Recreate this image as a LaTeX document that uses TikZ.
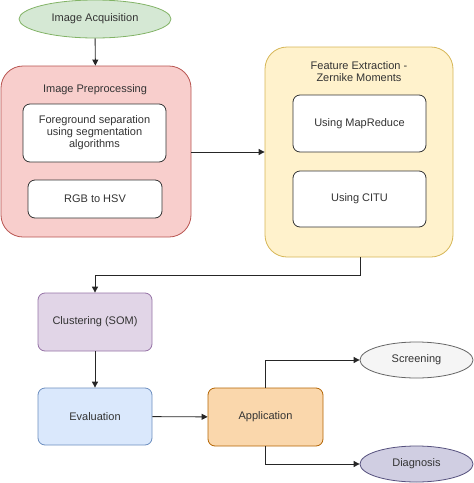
\documentclass[tikz,border=0pt]{standalone}
\usepackage{fontspec}
\setmainfont{Liberation Sans}
\usetikzlibrary{shapes.geometric,arrows.meta,positioning}
\definecolor{gfill}{HTML}{D5E8D4}\definecolor{gdraw}{HTML}{82B366}
\definecolor{rfill}{HTML}{F8CECC}\definecolor{rdraw}{HTML}{B85450}
\definecolor{yfill}{HTML}{FFF2CC}\definecolor{ydraw}{HTML}{D6B656}
\definecolor{pfill}{HTML}{E1D5E7}\definecolor{pdraw}{HTML}{9673A6}
\definecolor{bfill}{HTML}{DAE8FC}\definecolor{bdraw}{HTML}{6C8EBF}
\definecolor{ofill}{HTML}{FAD7AC}\definecolor{odraw}{HTML}{B46504}
\definecolor{sfill}{HTML}{F5F5F5}\definecolor{sdraw}{HTML}{666666}
\definecolor{dfill}{HTML}{D0CEE2}\definecolor{ddraw}{HTML}{56517E}
\definecolor{txt}{HTML}{333333}
\begin{document}
\begin{tikzpicture}[x=1pt,y=-1pt,
  every node/.style={font=\fontsize{11}{13}\selectfont, text=txt},
  box/.style={rectangle, rounded corners=7pt, draw, line width=0.8pt, inner sep=0pt, align=center},
  bigbox/.style={rectangle, rounded corners=22pt, draw, line width=0.8pt, inner sep=0pt},
  oval/.style={ellipse, draw, line width=0.8pt, inner sep=0pt},
  conn/.style={draw=black!85, line width=0.9pt, -{Triangle[length=6pt,width=6pt]}}]
\useasboundingbox (0,0) rectangle (474,483);
% Image acquisition
\node[oval, fill=gfill, draw=gdraw, minimum width=152pt, minimum height=38pt] (acq) at (95,19) {Image Acquisition};
% Preprocessing
\node[bigbox, fill=rfill, draw=rdraw, minimum width=190pt, minimum height=171pt] (pre) at (96,151.5) {};
\node (pretitle) at (95,90) {Image Preprocessing};
\node[box, fill=white, draw=black!80, minimum width=143pt, minimum height=58pt] (fg) at (94.5,133) {Foreground separation\\[-1pt]using segmentation\\[-1pt]algorithms};
\node[box, fill=white, draw=black!80, minimum width=134pt, minimum height=38pt] (rgb) at (95,199) {RGB to HSV};
% Feature extraction
\node[bigbox, fill=yfill, draw=ydraw, minimum width=188pt, minimum height=210pt] (fe) at (359,152) {};
\node[align=center] (fetitle) at (359,71.5) {Feature Extraction -\\[-1pt]Zernike Moments};
\node[box, fill=white, draw=black!80, minimum width=133pt, minimum height=57pt] (mr) at (359.5,123.5) {Using MapReduce};
\node[box, fill=white, draw=black!80, minimum width=133pt, minimum height=56pt] (citu) at (359.5,199) {Using CITU};
% lower
\node[box, fill=pfill, draw=pdraw, minimum width=114pt, minimum height=58pt] (clu) at (95,322) {Clustering (SOM)};
\node[box, fill=bfill, draw=bdraw, minimum width=114pt, minimum height=57pt] (eva) at (95,416.5) {Evaluation};
\node[box, fill=ofill, draw=odraw, minimum width=115pt, minimum height=58pt] (app) at (265.5,417) {Application};
\node[oval, fill=sfill, draw=sdraw, minimum width=113pt, minimum height=36pt] (scr) at (416.5,360) {Screening};
\node[oval, fill=dfill, draw=ddraw, minimum width=113pt, minimum height=36pt] (dia) at (416.5,464) {Diagnosis};
% connectors
\coordinate (c1) at (360,275);
\coordinate (c2) at (95,275);
\draw[conn] (acq) -- (pre);
\draw[conn] (pre.east |- 0,152) -- (fe.west |- 0,152);
\draw[conn] (fe.south -| c1) -- (c1) -- (c2) -- (clu.north);
\draw[conn] (clu) -- (eva);
\draw[conn] (eva) -- (app);
\draw[conn] (app.north) |- (scr.west);
\draw[conn] (app.south) |- (dia.west);
\end{tikzpicture}
\end{document}
